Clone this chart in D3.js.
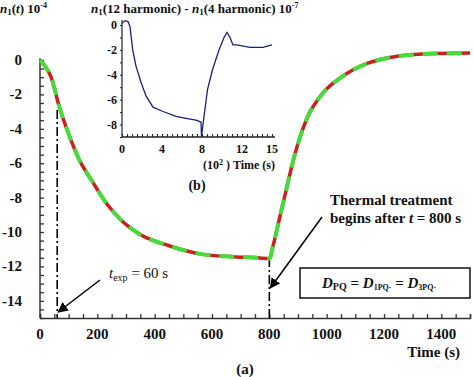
<!DOCTYPE html>
<html>
<head>
<meta charset="utf-8">
<script src="https://cdn.jsdelivr.net/npm/d3@7"></script>
<style>
  body { margin: 0; background: #fff; }
  svg text { font-family: "Liberation Serif", "Times New Roman", serif; fill: #111; }
</style>
</head>
<body>
<div id="chart"></div>
<script>
const mainTime = [0, 15, 38, 67, 102, 137, 184, 230, 289, 345, 450, 568, 684, 760, 800, 813, 837, 861, 884, 931, 988, 1047, 1141, 1221, 1337, 1500];
const mainValue = [0, -0.3, -0.97, -2.7, -4.4, -5.8, -7.1, -8.3, -9.4, -10.1, -10.8, -11.3, -11.45, -11.5, -11.55, -10.8, -9.1, -7.4, -5.8, -3.4, -1.9, -1.05, -0.2, 0.15, 0.35, 0.4];

const insetTime = [0, 0.3, 0.6, 0.8, 1.07, 1.4, 1.9, 2.4, 3.1, 4.1, 5.4, 6.4, 7.4, 7.9, 7.95, 8.2, 8.55, 9.05, 9.7, 10.2, 10.5, 10.8, 11.1, 11.5, 12.8, 14.1, 15];
const insetValue = [0.13, 0.35, 0.27, -0.13, -2.0, -3.3, -4.6, -5.7, -6.6, -6.95, -7.35, -7.5, -7.65, -7.8, -8.95, -7.35, -5.2, -3.6, -2.0, -1.0, -0.6, -1.0, -1.6, -1.6, -1.8, -1.8, -1.6];

const mainXTicks = [0, 200, 400, 600, 800, 1000, 1200, 1400];
const mainYTicks = [0, -2, -4, -6, -8, -10, -12, -14];
const insetXTicks = [0, 4, 8, 12, 15];
const insetYTicks = [0, -2, -4, -6, -8];

const markers = [60, 800];

const width = 474, height = 377;
const green = '#45dc3c';
const red = '#cc2020';
const navy = '#1c1f7a';

const svg = d3.select('#chart').append('svg')
  .attr('width', width)
  .attr('height', height);

svg.append('defs').append('marker')
  .attr('id', 'arrow')
  .attr('viewBox', '0 0 10 10')
  .attr('refX', 9).attr('refY', 5)
  .attr('markerWidth', 7).attr('markerHeight', 7)
  .attr('orient', 'auto')
  .append('path')
  .attr('d', 'M0,0 L10,5 L0,10 z')
  .attr('fill', '#000');

/* main chart */
const x = d3.scaleLinear().domain([0, 1500]).range([40, 470]);
const y = d3.scaleLinear().domain([-15, 0]).range([318, 60]);

const xAxis = svg.append('g').attr('transform', `translate(0, ${y(-15)})`)
  .call(d3.axisBottom(x).tickValues(d3.range(0, 1501, 50)).tickSize(-4).tickFormat(''));
xAxis.select('.domain').attr('stroke', '#333').attr('stroke-width', 1.5);
xAxis.selectAll('line').attr('stroke', '#333').attr('stroke-width', 1.3);

const yAxis = svg.append('g').attr('transform', `translate(${x(0)}, 0)`)
  .call(d3.axisLeft(y).tickValues(d3.range(-15, 0.01, 0.5)).tickSize(-4).tickFormat(''));
yAxis.select('.domain').attr('stroke', '#333').attr('stroke-width', 1.5)
  .attr('d', `M0,${y(-15)}V${y(0.1)}`);
yAxis.selectAll('line').attr('stroke', '#333').attr('stroke-width', 1.3);

svg.append('g').selectAll('text').data(mainXTicks).join('text')
  .attr('x', d => x(d)).attr('y', 339)
  .attr('text-anchor', 'middle')
  .attr('font-size', 15).attr('font-weight', 'bold')
  .text(d => d);

svg.append('g').selectAll('text').data(mainYTicks).join('text')
  .attr('x', 22).attr('y', d => y(d) + 5)
  .attr('text-anchor', 'end')
  .attr('font-size', 15).attr('font-weight', 'bold')
  .text(d => d);

// dash-dot markers
svg.append('g').selectAll('line').data(markers).join('line')
  .attr('x1', d => x(d)).attr('x2', d => x(d))
  .attr('y1', (d, i) => i === 0 ? 110 : 258)
  .attr('y2', y(-15))
  .attr('stroke', '#000').attr('stroke-width', 1.6)
  .attr('stroke-dasharray', '9,3,2,3');

const mainPoints = mainTime.map((t, i) => [t, mainValue[i]]);
const mainLine = d3.line()
  .x(d => x(d[0])).y(d => y(d[1]))
  .curve(d3.curveMonotoneX);

svg.append('path').datum(mainPoints)
  .attr('d', mainLine)
  .attr('fill', 'none').attr('stroke', red).attr('stroke-width', 3.5);
svg.append('path').datum(mainPoints)
  .attr('d', mainLine)
  .attr('fill', 'none').attr('stroke', green).attr('stroke-width', 4)
  .attr('stroke-dasharray', '15,9');

// arrows
svg.append('line')
  .attr('x1', 100).attr('y1', 280).attr('x2', x(60) + 1).attr('y2', 312)
  .attr('stroke', '#000').attr('stroke-width', 1.5).attr('marker-end', 'url(#arrow)');
svg.append('line')
  .attr('x1', 322).attr('y1', 217).attr('x2', x(800) + 1).attr('y2', 288)
  .attr('stroke', '#000').attr('stroke-width', 1.5).attr('marker-end', 'url(#arrow)');

// annotations
const texp = svg.append('text').attr('x', 109).attr('y', 278).attr('font-size', 15);
texp.append('tspan').attr('font-style', 'italic').text('t');
texp.append('tspan').attr('font-size', 10).attr('dy', 3).text('exp');
texp.append('tspan').attr('dy', -3).text(' = 60 s');

svg.append('text').attr('x', 330).attr('y', 205)
  .attr('font-size', 15).attr('font-weight', 'bold')
  .text('Thermal treatment');
const begins = svg.append('text').attr('x', 330).attr('y', 223)
  .attr('font-size', 15).attr('font-weight', 'bold');
begins.append('tspan').text('begins after ');
begins.append('tspan').attr('font-style', 'italic').text('t');
begins.append('tspan').text(' = 800 s');

svg.append('rect')
  .attr('x', 300).attr('y', 268).attr('width', 170).attr('height', 30)
  .attr('fill', 'none').attr('stroke', '#111').attr('stroke-width', 1.5);
const eq = svg.append('text').attr('x', 322).attr('y', 288)
  .attr('font-size', 15).attr('font-weight', 'bold');
eq.append('tspan').attr('font-style', 'italic').text('D');
eq.append('tspan').attr('font-size', 10).attr('dy', 2).text('PQ');
eq.append('tspan').attr('dy', -2).text(' = ');
eq.append('tspan').attr('font-style', 'italic').text('D');
eq.append('tspan').attr('font-size', 8).attr('dy', 2).text('1PQ·');
eq.append('tspan').attr('dy', -2).text(' = ');
eq.append('tspan').attr('font-style', 'italic').text('D');
eq.append('tspan').attr('font-size', 8).attr('dy', 2).text('3PQ·');

svg.append('text').attr('x', 460).attr('y', 357)
  .attr('text-anchor', 'end')
  .attr('font-size', 15).attr('font-weight', 'bold')
  .text('Time (s)');
svg.append('text').attr('x', 245).attr('y', 374)
  .attr('text-anchor', 'middle')
  .attr('font-size', 15).attr('font-weight', 'bold')
  .text('(a)');

const mainTitle = svg.append('text').attr('x', 0).attr('y', 13)
  .attr('font-size', 13).attr('font-weight', 'bold');
mainTitle.append('tspan').attr('font-style', 'italic').text('n');
mainTitle.append('tspan').attr('font-size', 9).attr('dy', 2).text('1');
mainTitle.append('tspan').attr('dy', -2).text('(');
mainTitle.append('tspan').attr('font-style', 'italic').text('t');
mainTitle.append('tspan').text(') 10');
mainTitle.append('tspan').attr('font-size', 8).attr('dy', -5).text('-4');

/* inset */
const ix = d3.scaleLinear().domain([0, 15]).range([122, 272]);
const iy = d3.scaleLinear().domain([-9, 0]).range([137, 25]);

const ixAxis = svg.append('g').attr('transform', `translate(0, ${iy(-9)})`)
  .call(d3.axisBottom(ix).tickValues(d3.range(0, 15.01, 0.5)).tickSize(-3).tickFormat(''));
ixAxis.select('.domain').attr('stroke', '#222').attr('stroke-width', 1.5)
  .attr('d', `M${ix(0)},0H${ix(15) + 3}`);
ixAxis.selectAll('line').attr('stroke', '#222');

const iyAxis = svg.append('g').attr('transform', `translate(${ix(0)}, 0)`)
  .call(d3.axisLeft(iy).tickValues(d3.range(-9, 0.01, 1)).tickSize(2).tickFormat(''));
iyAxis.select('.domain').attr('stroke', '#222').attr('stroke-width', 1.2)
  .attr('d', `M0,${iy(-9)}V${iy(0.4)}`);
iyAxis.selectAll('line').attr('stroke', '#222');

svg.append('g').selectAll('text').data(insetXTicks).join('text')
  .attr('x', d => ix(d)).attr('y', 153)
  .attr('text-anchor', 'middle')
  .attr('font-size', 12).attr('font-weight', 'bold')
  .text(d => d);

svg.append('g').selectAll('text').data(insetYTicks).join('text')
  .attr('x', 117).attr('y', d => iy(d) + 4)
  .attr('text-anchor', 'end')
  .attr('font-size', 12).attr('font-weight', 'bold')
  .text(d => d);

const insetPoints = insetTime.map((t, i) => [t, insetValue[i]]);
svg.append('path').datum(insetPoints)
  .attr('d', d3.line().x(d => ix(d[0])).y(d => iy(d[1])))
  .attr('fill', 'none').attr('stroke', navy).attr('stroke-width', 1.3);

const insetXLabel = svg.append('text').attr('x', 275).attr('y', 169)
  .attr('text-anchor', 'end')
  .attr('font-size', 12).attr('font-weight', 'bold');
insetXLabel.append('tspan').text('(10');
insetXLabel.append('tspan').attr('font-size', 8).attr('dy', -4).text('2');
insetXLabel.append('tspan').attr('dy', 4).text(' ) Time (s)');

svg.append('text').attr('x', 197).attr('y', 190)
  .attr('text-anchor', 'middle')
  .attr('font-size', 14).attr('font-weight', 'bold')
  .text('(b)');

const insetTitle = svg.append('text').attr('x', 91).attr('y', 13)
  .attr('font-size', 13).attr('font-weight', 'bold');
insetTitle.append('tspan').attr('font-style', 'italic').text('n');
insetTitle.append('tspan').attr('font-size', 9).attr('dy', 2).text('1');
insetTitle.append('tspan').attr('dy', -2).text('(12 harmonic) - ');
insetTitle.append('tspan').attr('font-style', 'italic').text('n');
insetTitle.append('tspan').attr('font-size', 9).attr('dy', 2).text('1');
insetTitle.append('tspan').attr('dy', -2).text('(4 harmonic) 10');
insetTitle.append('tspan').attr('font-size', 8).attr('dy', -5).text('-7');
</script>
</body>
</html>
